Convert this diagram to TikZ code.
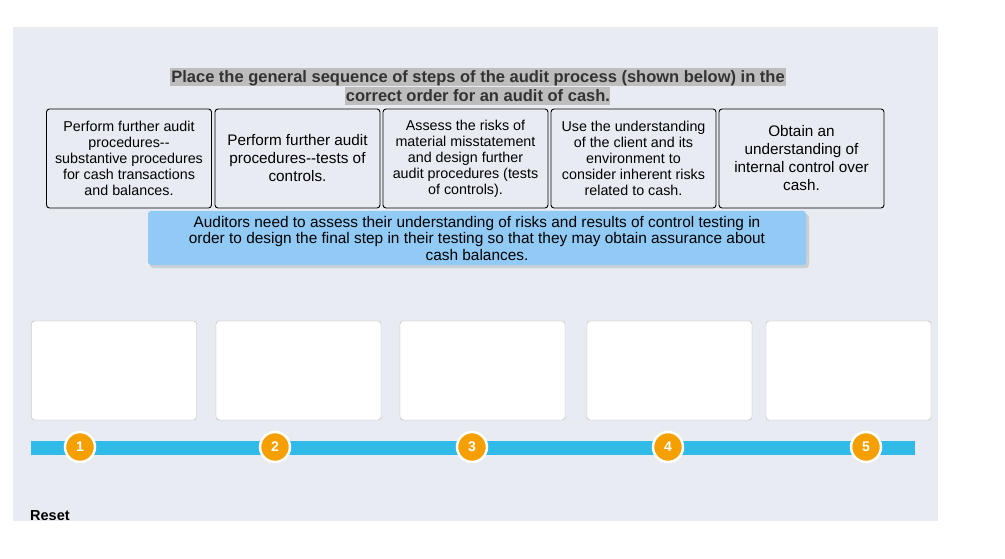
\documentclass[tikz,border=0pt]{standalone}
\usepackage{fontspec}
\setmainfont{Liberation Sans}
\definecolor{panel}{HTML}{E8ECF2}
\definecolor{hl}{HTML}{BDBDBD}
\definecolor{callout}{HTML}{90CAF5}
\definecolor{bar}{HTML}{30BAE8}
\definecolor{orng}{HTML}{F5A000}
\begin{document}
\begin{tikzpicture}[x=1pt,y=-1pt,
 card/.style={draw=black,line width=0.9pt,rounded corners=3pt,minimum width=165pt,minimum height=99pt,align=center,inner sep=2pt},
 small/.style={font=\fontsize{14.3}{16}\selectfont},
 big/.style={font=\fontsize{15.3}{18}\selectfont},
 drop/.style={draw=black!30,fill=white,rounded corners=3pt,minimum width=165pt,minimum height=99pt},
 num/.style={circle,fill=orng,draw=white,line width=2.5pt,minimum size=30pt,inner sep=0pt,text=white,font=\bfseries\fontsize{14}{14}\selectfont}]
\useasboundingbox (0,0) rectangle (1005,559);
\fill[white] (0,0) rectangle (1005,559);
\fill[panel] (13,27) rectangle (938,521);
% title
\fill[hl] (170,68) rectangle (786,86);
\fill[hl] (345,87) rectangle (610,105);
\node[font=\bfseries\fontsize{16.5}{19}\selectfont,text=black!80,align=center] (title) at (478,86.5)
 {Place the general sequence of steps of the audit process (shown below) in the\\correct order for an audit of cash.};
% cards
\node[card,small] (c1) at (129,158.5) {Perform further audit\\procedures-{}-\\substantive procedures\\for cash transactions\\and balances.};
\node[card,big] (c2) at (297.5,158.5) {Perform further audit\\procedures-{}-tests of\\controls.};
\node[card,small] (c3) at (465.5,158.5) {Assess the risks of\\material misstatement\\and design further\\audit procedures (tests\\of controls).};
\node[card,small] (c4) at (633.5,158.5) {Use the understanding\\of the client and its\\environment to\\consider inherent risks\\related to cash.};
\node[card,big] (c5) at (801.5,158.5) {Obtain an\\understanding of\\internal control over\\cash.};
% callout
\fill[black,opacity=0.12,rounded corners=3pt] (150,214) rectangle (809,268);
\node[fill=callout,rounded corners=3pt,minimum width=658pt,minimum height=54pt,align=center,inner sep=0pt,font=\fontsize{15.4}{16.5}\selectfont] (tip) at (477,238)
 {Auditors need to assess their understanding of risks and results of control testing in\\order to design the final step in their testing so that they may obtain assurance about\\cash balances.};
% drop boxes
\node[drop] (d1) at (114,370.5) {};
\node[drop] (d2) at (298.5,370.5) {};
\node[drop] (d3) at (482.5,370.5) {};
\node[drop] (d4) at (669.5,370.5) {};
\node[drop] (d5) at (848.5,370.5) {};
% bar
\fill[bar] (31,441) rectangle (915,455);
\node[num] (n1) at (80,447) {1};
\node[num] (n2) at (275,447) {2};
\node[num] (n3) at (472,447) {3};
\node[num] (n4) at (668,447) {4};
\node[num] (n5) at (866,447) {5};
\node[anchor=west,font=\bfseries\fontsize{14.5}{14.5}\selectfont,inner sep=0pt] (reset) at (30,516) {Reset};
\end{tikzpicture}
\end{document}
